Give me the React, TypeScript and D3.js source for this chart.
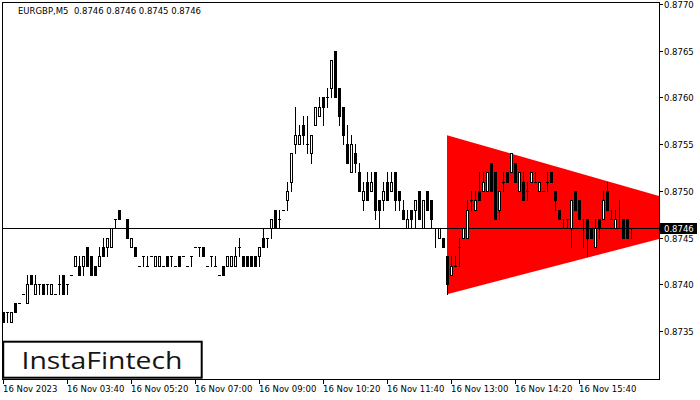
import React from 'react';
import * as d3 from 'd3';

const chartTitle = 'EURGBP,M5  0.8746 0.8746 0.8745 0.8746';
const logoText = 'InstaFintech';

const opens = [
  0.8737, 0.8737, 0.8736, 0.8738, 0.8738, 0.8739, 0.8738, 0.8741, 0.8739, 0.8740,
  0.8740, 0.8740, 0.8739, 0.8739, 0.8740, 0.8741, 0.8740, 0.8741, 0.8742, 0.8742,
  0.8742, 0.8744, 0.8743, 0.8742, 0.8742, 0.8744, 0.8744, 0.8744, 0.8747, 0.8748,
  null, 0.8747, 0.8744, 0.8744, 0.8742, 0.8743, 0.8742, 0.8743, 0.8742, 0.8742,
  0.8742, 0.8743, 0.8743, 0.8742, 0.8743, 0.8743, 0.8742, 0.8743, 0.8744, 0.8744,
  0.8744, 0.8742, 0.8743, 0.8742, 0.8741, 0.8742, 0.8742, 0.8742, 0.8742, 0.8744,
  0.8743, 0.8743, 0.8743, 0.8743, 0.8743, 0.8745, 0.8745, 0.8746, 0.8748, 0.8747,
  0.8748, 0.8749, 0.8751, 0.8755, 0.8755, 0.8757, 0.8755, 0.8754, 0.8757, 0.8758,
  0.8760, 0.8760, 0.8761, 0.8765, 0.8761, 0.8759, 0.8755, 0.8752, 0.8754, 0.8752,
  0.8749, 0.8751, 0.8750, 0.8752, 0.8749, 0.8749, 0.8751, 0.8750, 0.8752, 0.8750,
  0.8748, 0.8746, 0.8748, 0.8748, 0.8750, 0.8746, 0.8750, 0.8749, 0.8746, 0.8745,
  0.8745, 0.8743, 0.8741, 0.8742, 0.8744, 0.8745, 0.8745, 0.8749, 0.8748, 0.8750,
  0.8750, 0.8750, 0.8753, 0.8752, 0.8748, 0.8751, 0.8752, 0.8752, 0.8753, 0.8750,
  0.8751, 0.8750, 0.8751, 0.8751, 0.8750, 0.8750, 0.8751, 0.8752, 0.8750, 0.8748,
  0.8746, 0.8747, 0.8746, 0.8750, 0.8749, 0.8746, 0.8747, 0.8746, 0.8744, 0.8747,
  0.8747, 0.8750, 0.8747, 0.8746, 0.8746, 0.8747, 0.8747, 0.8746,
];

const highs = [
  0.8737, 0.8737, 0.8737, 0.8738, 0.8738, 0.8739, 0.8741, 0.8741, 0.8741, 0.8740,
  0.8740, 0.8740, 0.8740, 0.8739, 0.8741, 0.8741, 0.8740, 0.8741, 0.8743, 0.8743,
  0.8743, 0.8744, 0.8743, 0.8742, 0.8744, 0.8745, 0.8745, 0.8746, 0.8747, 0.8748,
  null, 0.8747, 0.8745, 0.8744, 0.8742, 0.8743, 0.8743, 0.8743, 0.8743, 0.8743,
  0.8742, 0.8743, 0.8743, 0.8742, 0.8743, 0.8743, 0.8742, 0.8743, 0.8744, 0.8744,
  0.8744, 0.8742, 0.8743, 0.8743, 0.8741, 0.8742, 0.8743, 0.8743, 0.8744, 0.8745,
  0.8743, 0.8743, 0.8743, 0.8743, 0.8744, 0.8746, 0.8745, 0.8747, 0.8748, 0.8748,
  0.8748, 0.8751, 0.8754, 0.8759, 0.8757, 0.8758, 0.8758, 0.8756, 0.8759, 0.8760,
  0.8760, 0.8761, 0.8764, 0.8765, 0.8761, 0.8759, 0.8757, 0.8756, 0.8755, 0.8753,
  0.8751, 0.8752, 0.8752, 0.8752, 0.8749, 0.8751, 0.8752, 0.8752, 0.8752, 0.8750,
  0.8749, 0.8748, 0.8748, 0.8749, 0.8750, 0.8749, 0.8750, 0.8749, 0.8746, 0.8746,
  0.8745, 0.8743, 0.8743, 0.8743, 0.8745, 0.8746, 0.8749, 0.8750, 0.8750, 0.8752,
  0.8752, 0.8752, 0.8753, 0.8752, 0.8750, 0.8752, 0.8752, 0.8754, 0.8753, 0.8752,
  0.8752, 0.8751, 0.8752, 0.8752, 0.8751, 0.8750, 0.8752, 0.8752, 0.8750, 0.8748,
  0.8747, 0.8747, 0.8749, 0.8750, 0.8749, 0.8747, 0.8747, 0.8746, 0.8747, 0.8747,
  0.8750, 0.8751, 0.8748, 0.8748, 0.8749, 0.8747, 0.8747, 0.8746,
];

const lows = [
  0.8736, 0.8736, 0.8736, 0.8737, 0.8738, 0.8739, 0.8738, 0.8740, 0.8739, 0.8739,
  0.8739, 0.8739, 0.8739, 0.8739, 0.8739, 0.8739, 0.8739, 0.8741, 0.8742, 0.8741,
  0.8741, 0.8742, 0.8741, 0.8741, 0.8742, 0.8743, 0.8743, 0.8744, 0.8746, 0.8747,
  null, 0.8745, 0.8744, 0.8743, 0.8742, 0.8742, 0.8742, 0.8743, 0.8742, 0.8742,
  0.8742, 0.8742, 0.8742, 0.8742, 0.8742, 0.8743, 0.8742, 0.8742, 0.8744, 0.8743,
  0.8743, 0.8742, 0.8742, 0.8742, 0.8741, 0.8741, 0.8742, 0.8742, 0.8742, 0.8743,
  0.8742, 0.8742, 0.8742, 0.8742, 0.8742, 0.8744, 0.8744, 0.8745, 0.8746, 0.8746,
  0.8748, 0.8748, 0.8750, 0.8754, 0.8755, 0.8755, 0.8754, 0.8753, 0.8757, 0.8758,
  0.8757, 0.8759, 0.8760, 0.8760, 0.8757, 0.8755, 0.8753, 0.8752, 0.8752, 0.8750,
  0.8748, 0.8749, 0.8750, 0.8747, 0.8746, 0.8748, 0.8749, 0.8750, 0.8748, 0.8748,
  0.8747, 0.8746, 0.8746, 0.8746, 0.8747, 0.8746, 0.8748, 0.8746, 0.8744, 0.8745,
  0.8744, 0.8739, 0.8741, 0.8742, 0.8742, 0.8745, 0.8745, 0.8748, 0.8748, 0.8749,
  0.8750, 0.8750, 0.8750, 0.8747, 0.8747, 0.8750, 0.8751, 0.8752, 0.8751, 0.8750,
  0.8749, 0.8749, 0.8751, 0.8751, 0.8750, 0.8750, 0.8750, 0.8751, 0.8748, 0.8747,
  0.8746, 0.8746, 0.8744, 0.8748, 0.8747, 0.8744, 0.8743, 0.8745, 0.8744, 0.8745,
  0.8747, 0.8748, 0.8747, 0.8746, 0.8746, 0.8745, 0.8745, 0.8745,
];

const closes = [
  0.8736, 0.8737, 0.8737, 0.8737, 0.8738, 0.8739, 0.8740, 0.8740, 0.8740, 0.8740,
  0.8739, 0.8740, 0.8740, 0.8739, 0.8740, 0.8739, 0.8740, 0.8741, 0.8743, 0.8741,
  0.8743, 0.8742, 0.8741, 0.8741, 0.8743, 0.8743, 0.8745, 0.8746, 0.8747, 0.8747,
  null, 0.8745, 0.8745, 0.8743, 0.8742, 0.8743, 0.8742, 0.8743, 0.8743, 0.8743,
  0.8742, 0.8742, 0.8743, 0.8742, 0.8742, 0.8743, 0.8742, 0.8743, 0.8744, 0.8744,
  0.8743, 0.8742, 0.8743, 0.8742, 0.8741, 0.8741, 0.8743, 0.8743, 0.8743, 0.8744,
  0.8742, 0.8742, 0.8742, 0.8742, 0.8744, 0.8744, 0.8745, 0.8747, 0.8746, 0.8747,
  0.8748, 0.8750, 0.8754, 0.8756, 0.8756, 0.8756, 0.8755, 0.8756, 0.8759, 0.8759,
  0.8759, 0.8760, 0.8764, 0.8760, 0.8758, 0.8756, 0.8753, 0.8755, 0.8753, 0.8750,
  0.8750, 0.8749, 0.8751, 0.8748, 0.8748, 0.8750, 0.8749, 0.8751, 0.8749, 0.8749,
  0.8747, 0.8747, 0.8747, 0.8749, 0.8747, 0.8749, 0.8748, 0.8747, 0.8746, 0.8746,
  0.8744, 0.8740, 0.8742, 0.8742, 0.8744, 0.8746, 0.8748, 0.8749, 0.8749, 0.8749,
  0.8751, 0.8752, 0.8750, 0.8747, 0.8750, 0.8751, 0.8751, 0.8754, 0.8751, 0.8752,
  0.8749, 0.8750, 0.8752, 0.8751, 0.8751, 0.8750, 0.8751, 0.8751, 0.8749, 0.8747,
  0.8746, 0.8747, 0.8749, 0.8748, 0.8747, 0.8746, 0.8745, 0.8745, 0.8746, 0.8746,
  0.8749, 0.8748, 0.8747, 0.8747, 0.8746, 0.8745, 0.8745, 0.8746,
];

const timeLabels = [
  '16 Nov 2023', '16 Nov 03:40', '16 Nov 05:20', '16 Nov 07:00', '16 Nov 09:00',
  '16 Nov 10:20', '16 Nov 11:40', '16 Nov 13:00', '16 Nov 14:20', '16 Nov 15:40',
];
const timeLabelBars = [0, 16, 32, 48, 64, 80, 96, 112, 128, 144];

const priceTicks = [0.8770, 0.8765, 0.8760, 0.8755, 0.8750, 0.8745, 0.8740, 0.8735];
const lastPrice = 0.8746;

// symmetrical triangle pattern: bar indices and the prices of its two edges
const patternBars = [111, 164];
const patternTop = [0.8756, 0.87495];
const patternBottom = [0.8739, 0.87449];

const FONT = '"DejaVu Sans", Verdana, sans-serif';

export default function App() {
  const W = 700;
  const H = 400;
  const plotLeft = 2;
  const plotTop = 2;
  const plotRight = 659;
  const plotBottom = 379;

  const x = d3.scaleLinear().domain([0, opens.length - 1]).range([3, 631]);
  const y = d3.scaleLinear().domain([0.8735, 0.877]).range([331.5, 4.5]);
  const row = (p: number) => Math.floor(y(p));

  const tri = [
    [x(patternBars[0]), y(patternTop[0])],
    [x(patternBars[1]), y(patternTop[1])],
    [x(patternBars[1]), y(patternBottom[1])],
    [x(patternBars[0]), y(patternBottom[0])],
  ];
  const triPath = d3.line()(tri as [number, number][]) + 'Z';

  const candles: React.ReactNode[] = [];
  opens.forEach((o, i) => {
    const h = highs[i];
    const l = lows[i];
    const c = closes[i];
    if (o == null || h == null || l == null || c == null) return;
    const cx = Math.round(x(i));
    const yH = row(h);
    const yL = row(l);
    const yO = row(o);
    const yC = row(c);
    candles.push(
      <rect key={'w' + i} x={cx} y={yH} width={1} height={yL - yH + 1} fill="#000" />
    );
    if (c < o) {
      candles.push(
        <rect key={'b' + i} x={cx - 1} y={yO} width={3} height={yC - yO + 1} fill="#000" />
      );
    } else if (c > o) {
      candles.push(
        <rect
          key={'b' + i}
          x={cx - 0.5}
          y={yC + 0.5}
          width={2}
          height={yO - yC}
          fill="#fff"
          stroke="#000"
          strokeWidth={1}
        />
      );
    } else {
      candles.push(<rect key={'b' + i} x={cx - 1} y={yO} width={3} height={1} fill="#000" />);
    }
  });

  const lastRow = row(lastPrice);

  return (
    <div style={{ position: 'absolute', left: 0, top: 0, width: W, height: H }}>
      <svg width={W} height={H} style={{ display: 'block', background: '#fff' }}>
        <defs>
          <clipPath id="plot">
            <rect x={plotLeft} y={plotTop} width={plotRight - plotLeft} height={plotBottom - plotTop} />
          </clipPath>
        </defs>
        <rect x={0} y={0} width={W} height={H} fill="#fff" />

        <g clipPath="url(#plot)">
          <path d={triPath} fill="#ff0000" />
          <line
            x1={plotLeft}
            x2={plotRight}
            y1={lastRow + 0.5}
            y2={lastRow + 0.5}
            stroke="#000"
            strokeWidth={1}
          />
          <g shapeRendering="crispEdges">{candles}</g>
        </g>

        {/* frame */}
        <rect
          x={plotLeft + 0.5}
          y={plotTop + 0.5}
          width={plotRight - plotLeft}
          height={plotBottom - plotTop}
          fill="none"
          stroke="#000"
          strokeWidth={1}
          shapeRendering="crispEdges"
        />

        {/* price axis */}
        {priceTicks.map((p) => {
          const r = row(p);
          return (
            <g key={'pt' + p}>
              <line x1={660} x2={663} y1={r + 0.5} y2={r + 0.5} stroke="#000" shapeRendering="crispEdges" />
              <text x={664} y={r + 4} fontFamily={FONT} fontSize={8.5} fill="#000">
                {p.toFixed(4)}
              </text>
            </g>
          );
        })}
        <rect x={660} y={lastRow - 5} width={37} height={11} fill="#000" />
        <text x={664} y={lastRow + 4} fontFamily={FONT} fontSize={8.5} fill="#fff">
          {lastPrice.toFixed(4)}
        </text>

        {/* time axis */}
        {timeLabelBars.map((b, k) => {
          const cx = Math.round(x(b));
          return (
            <g key={'tt' + b}>
              <line x1={cx + 0.5} x2={cx + 0.5} y1={380} y2={384} stroke="#000" shapeRendering="crispEdges" />
              <text x={cx} y={392} fontFamily={FONT} fontSize={8.5} fill="#000">
                {timeLabels[k]}
              </text>
            </g>
          );
        })}

        {/* title */}
        <text x={18} y={14} fontFamily={FONT} fontSize={8.5} fill="#000" style={{ whiteSpace: 'pre' }}>
          {chartTitle}
        </text>

        {/* logo */}
        <rect x={3.2} y={341.7} width={198.5} height={36} fill="#fff" stroke="#000" strokeWidth={2} />
        <text
          x={21.5}
          y={369.3}
          fontFamily='"Open Sans", Lato, sans-serif'
          fontSize={23}
          fontWeight={500}
          fill="#151515"
          textLength={161}
          lengthAdjust="spacingAndGlyphs"
        >
          {logoText}
        </text>
      </svg>
    </div>
  );
}
